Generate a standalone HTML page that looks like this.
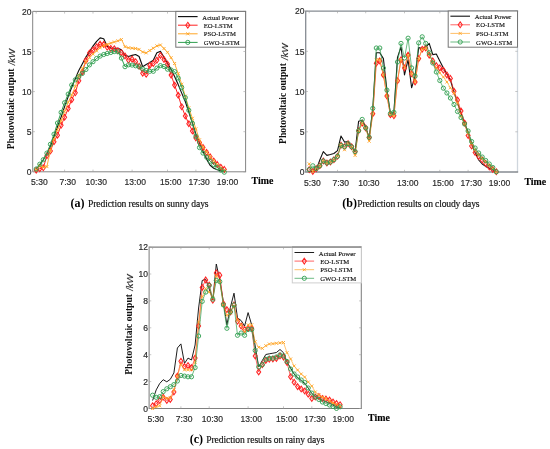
<!DOCTYPE html>
<html><head><meta charset="utf-8"><title>Prediction results</title>
<style>
html,body{margin:0;padding:0;background:#fff;}
svg{display:block}
.tk{font-family:"Liberation Sans",Arial,sans-serif;font-size:9.3px;fill:#2b2b2b;stroke:#2b2b2b;stroke-width:0.2px;}
.lg{font-family:"Liberation Serif","Times New Roman",serif;font-size:6.7px;fill:#111;stroke:#111;stroke-width:0.15px;}
.yl{font-family:"Liberation Serif","Times New Roman",serif;font-size:9.6px;font-weight:bold;fill:#111;}
.kw{font-family:"Liberation Sans",Arial,sans-serif;font-size:9.6px;font-weight:normal;font-style:italic;fill:#2b2b2b;stroke:#2b2b2b;stroke-width:0.15px;}
.tm{font-family:"Liberation Serif","Times New Roman",serif;font-size:9.9px;font-weight:bold;fill:#000;stroke:#000;stroke-width:0.12px;}
.cap{font-family:"Liberation Serif","Times New Roman",serif;font-size:9.6px;fill:#111;stroke:#111;stroke-width:0.15px;}
.cb{font-family:"Liberation Serif","Times New Roman",serif;font-weight:bold;font-size:12px;fill:#000;}
</style></head>
<body>
<svg width="550" height="449" viewBox="0 0 550 449">
<rect x="0" y="0" width="550" height="449" fill="#fff"/>
<path d="M245.6 11.4V171.8" fill="none" stroke="#777" stroke-width="0.9"/>
<path d="M245.6 11.4H32.7V171.8H245.6" fill="none" stroke="#777" stroke-width="0.9" stroke-linecap="square"/>
<path d="M32.7 171.8h2.2M245.6 171.8h-2.2M32.7 131.7h2.2M245.6 131.7h-2.2M32.7 91.6h2.2M245.6 91.6h-2.2M32.7 51.5h2.2M245.6 51.5h-2.2M32.7 11.4h2.2M245.6 11.4h-2.2M36.2 171.8v-2.2M36.2 11.4v2.2M64.6 171.8v-2.2M64.6 11.4v2.2M93.0 171.8v-2.2M93.0 11.4v2.2M132.1 171.8v-2.2M132.1 11.4v2.2M167.5 171.8v-2.2M167.5 11.4v2.2M195.9 171.8v-2.2M195.9 11.4v2.2M224.3 171.8v-2.2M224.3 11.4v2.2" stroke="#a0a0a0" stroke-width="0.6" fill="none"/>
<text transform="translate(31.5 175.1) scale(0.92 1)" text-anchor="end" class="tk">0</text>
<text transform="translate(31.5 135.0) scale(0.92 1)" text-anchor="end" class="tk">5</text>
<text transform="translate(31.5 94.9) scale(0.92 1)" text-anchor="end" class="tk">10</text>
<text transform="translate(31.5 54.8) scale(0.92 1)" text-anchor="end" class="tk">15</text>
<text transform="translate(31.5 14.7) scale(0.92 1)" text-anchor="end" class="tk">20</text>
<text transform="translate(39.4 185.4) scale(0.92 1)" text-anchor="middle" class="tk">5:30</text>
<text transform="translate(67.8 185.4) scale(0.92 1)" text-anchor="middle" class="tk">7:30</text>
<text transform="translate(96.2 185.4) scale(0.92 1)" text-anchor="middle" class="tk">10:30</text>
<text transform="translate(135.3 185.4) scale(0.92 1)" text-anchor="middle" class="tk">13:00</text>
<text transform="translate(170.7 185.4) scale(0.92 1)" text-anchor="middle" class="tk">15:00</text>
<text transform="translate(199.1 185.4) scale(0.92 1)" text-anchor="middle" class="tk">17:30</text>
<text transform="translate(227.5 185.4) scale(0.92 1)" text-anchor="middle" class="tk">19:00</text>
<polyline points="36.2,169.7 39.8,164.9 43.3,159.8 46.9,154.0 50.4,146.5 54.0,136.7 57.5,126.8 61.1,117.1 64.6,106.6 68.2,96.6 71.7,87.2 75.3,78.8 78.8,70.4 82.4,63.7 85.9,57.1 89.5,51.5 93.0,46.1 96.6,41.3 100.1,37.9 103.7,38.8 107.2,46.2 110.8,48.1 114.3,48.2 117.9,48.3 121.4,49.7 125.0,55.0 128.5,56.5 132.1,55.4 135.6,54.5 139.1,56.5 142.7,66.7 146.2,64.4 149.8,62.5 153.3,60.3 156.9,52.7 160.4,51.4 164.0,57.2 167.5,63.2 171.1,69.4 174.6,76.4 178.2,84.6 181.7,93.1 185.3,101.5 188.8,112.0 192.4,123.0 195.9,134.2 199.5,142.8 203.0,151.3 206.6,159.1 210.1,165.3 213.7,168.2 217.2,169.7 220.8,170.8 224.3,171.8" fill="none" stroke="#111" stroke-width="1.15" stroke-linejoin="round"/>
<polyline points="36.2,170.2 39.8,168.7 43.3,167.8 46.9,155.8 50.4,151.0 54.0,141.7 57.5,135.2 61.1,125.3 64.6,117.3 68.2,108.5 71.7,99.7 75.3,92.8 78.8,80.8 82.4,71.9 85.9,60.6 89.5,53.1 93.0,50.0 96.6,46.9 100.1,44.1 103.7,44.4 107.2,47.3 110.8,48.4 114.3,48.7 117.9,50.8 121.4,52.7 125.0,56.0 128.5,60.1 132.1,59.1 135.6,61.7 139.1,66.2 142.7,73.2 146.2,74.3 149.8,65.4 153.3,63.5 156.9,60.1 160.4,55.5 164.0,59.5 167.5,64.1 171.1,75.1 174.6,85.1 178.2,95.3 181.7,106.7 185.3,116.0 188.8,123.7 192.4,131.0 195.9,137.9 199.5,142.6 203.0,147.4 206.6,152.4 210.1,156.8 213.7,161.0 217.2,164.4 220.8,167.3 224.3,169.4" fill="none" stroke="#ff2222" stroke-width="1.0" stroke-linejoin="round"/>
<path d="M36.2 167.3L38.2 170.2L36.2 173.1L34.2 170.2ZM39.8 165.8L41.8 168.7L39.8 171.6L37.8 168.7ZM43.3 164.9L45.3 167.8L43.3 170.7L41.3 167.8ZM46.9 152.9L48.9 155.8L46.9 158.7L44.9 155.8ZM50.4 148.1L52.4 151.0L50.4 153.9L48.4 151.0ZM54.0 138.8L56.0 141.7L54.0 144.6L52.0 141.7ZM57.5 132.3L59.5 135.2L57.5 138.1L55.5 135.2ZM61.1 122.4L63.1 125.3L61.1 128.2L59.1 125.3ZM64.6 114.4L66.6 117.3L64.6 120.2L62.6 117.3ZM68.2 105.6L70.2 108.5L68.2 111.4L66.2 108.5ZM71.7 96.8L73.7 99.7L71.7 102.6L69.7 99.7ZM75.3 89.9L77.3 92.8L75.3 95.7L73.3 92.8ZM78.8 77.9L80.8 80.8L78.8 83.7L76.8 80.8ZM82.4 69.0L84.4 71.9L82.4 74.8L80.4 71.9ZM85.9 57.7L87.9 60.6L85.9 63.5L83.9 60.6ZM89.5 50.2L91.5 53.1L89.5 56.0L87.5 53.1ZM93.0 47.1L95.0 50.0L93.0 52.9L91.0 50.0ZM96.6 44.0L98.6 46.9L96.6 49.8L94.6 46.9ZM100.1 41.2L102.1 44.1L100.1 47.0L98.1 44.1ZM103.7 41.5L105.7 44.4L103.7 47.3L101.7 44.4ZM107.2 44.4L109.2 47.3L107.2 50.2L105.2 47.3ZM110.8 45.5L112.8 48.4L110.8 51.3L108.8 48.4ZM114.3 45.8L116.3 48.7L114.3 51.6L112.3 48.7ZM117.9 47.9L119.9 50.8L117.9 53.7L115.9 50.8ZM121.4 49.8L123.4 52.7L121.4 55.6L119.4 52.7ZM125.0 53.1L127.0 56.0L125.0 58.9L123.0 56.0ZM128.5 57.2L130.5 60.1L128.5 63.0L126.5 60.1ZM132.1 56.2L134.1 59.1L132.1 62.0L130.1 59.1ZM135.6 58.8L137.6 61.7L135.6 64.6L133.6 61.7ZM139.1 63.3L141.1 66.2L139.1 69.1L137.1 66.2ZM142.7 70.3L144.7 73.2L142.7 76.1L140.7 73.2ZM146.2 71.4L148.2 74.3L146.2 77.2L144.2 74.3ZM149.8 62.5L151.8 65.4L149.8 68.3L147.8 65.4ZM153.3 60.6L155.3 63.5L153.3 66.4L151.3 63.5ZM156.9 57.2L158.9 60.1L156.9 63.0L154.9 60.1ZM160.4 52.6L162.4 55.5L160.4 58.4L158.4 55.5ZM164.0 56.6L166.0 59.5L164.0 62.4L162.0 59.5ZM167.5 61.2L169.5 64.1L167.5 67.0L165.5 64.1ZM171.1 72.2L173.1 75.1L171.1 78.0L169.1 75.1ZM174.6 82.2L176.6 85.1L174.6 88.0L172.6 85.1ZM178.2 92.4L180.2 95.3L178.2 98.2L176.2 95.3ZM181.7 103.8L183.7 106.7L181.7 109.6L179.7 106.7ZM185.3 113.1L187.3 116.0L185.3 118.9L183.3 116.0ZM188.8 120.8L190.8 123.7L188.8 126.6L186.8 123.7ZM192.4 128.1L194.4 131.0L192.4 133.9L190.4 131.0ZM195.9 135.0L197.9 137.9L195.9 140.8L193.9 137.9ZM199.5 139.7L201.5 142.6L199.5 145.5L197.5 142.6ZM203.0 144.5L205.0 147.4L203.0 150.3L201.0 147.4ZM206.6 149.5L208.6 152.4L206.6 155.3L204.6 152.4ZM210.1 153.9L212.1 156.8L210.1 159.7L208.1 156.8ZM213.7 158.1L215.7 161.0L213.7 163.9L211.7 161.0ZM217.2 161.5L219.2 164.4L217.2 167.3L215.2 164.4ZM220.8 164.4L222.8 167.3L220.8 170.2L218.8 167.3ZM224.3 166.5L226.3 169.4L224.3 172.3L222.3 169.4Z" fill="none" stroke="#ff2222" stroke-width="1.05"/>
<polyline points="36.2,169.7 39.8,165.8 43.3,167.2 46.9,166.6 50.4,150.4 54.0,139.2 57.5,129.7 61.1,120.6 64.6,111.4 68.2,102.4 71.7,94.9 75.3,86.6 78.8,75.4 82.4,68.5 85.9,61.8 89.5,57.7 93.0,54.1 96.6,50.9 100.1,47.8 103.7,45.7 107.2,44.4 110.8,43.1 114.3,42.0 117.9,40.8 121.4,39.5 125.0,46.7 128.5,47.8 132.1,48.2 135.6,48.5 139.1,49.4 142.7,52.0 146.2,52.9 149.8,50.5 153.3,48.2 156.9,45.9 160.4,45.0 164.0,48.5 167.5,52.3 171.1,57.7 174.6,63.5 178.2,73.5 181.7,84.2 185.3,96.1 188.8,107.8 192.4,118.3 195.9,128.8 199.5,139.8 203.0,147.3 206.6,152.1 210.1,156.6 213.7,160.7 217.2,164.6 220.8,168.0 224.3,170.4" fill="none" stroke="#ffa526" stroke-width="0.90" stroke-linejoin="round"/>
<path d="M34.7 168.2L37.7 171.2M34.7 171.2L37.7 168.2M38.3 164.3L41.3 167.3M38.3 167.3L41.3 164.3M41.8 165.7L44.8 168.7M41.8 168.7L44.8 165.7M45.4 165.1L48.4 168.1M45.4 168.1L48.4 165.1M48.9 148.9L51.9 151.9M48.9 151.9L51.9 148.9M52.5 137.7L55.5 140.7M52.5 140.7L55.5 137.7M56.0 128.2L59.0 131.2M56.0 131.2L59.0 128.2M59.6 119.1L62.6 122.1M59.6 122.1L62.6 119.1M63.1 109.9L66.1 112.9M63.1 112.9L66.1 109.9M66.7 100.9L69.7 103.9M66.7 103.9L69.7 100.9M70.2 93.4L73.2 96.4M70.2 96.4L73.2 93.4M73.8 85.1L76.8 88.1M73.8 88.1L76.8 85.1M77.3 73.9L80.3 76.9M77.3 76.9L80.3 73.9M80.9 67.0L83.9 70.0M80.9 70.0L83.9 67.0M84.4 60.3L87.4 63.3M84.4 63.3L87.4 60.3M88.0 56.2L91.0 59.2M88.0 59.2L91.0 56.2M91.5 52.6L94.5 55.6M91.5 55.6L94.5 52.6M95.1 49.4L98.1 52.4M95.1 52.4L98.1 49.4M98.6 46.3L101.6 49.3M98.6 49.3L101.6 46.3M102.2 44.2L105.2 47.2M102.2 47.2L105.2 44.2M105.7 42.9L108.7 45.9M105.7 45.9L108.7 42.9M109.3 41.6L112.3 44.6M109.3 44.6L112.3 41.6M112.8 40.5L115.8 43.5M112.8 43.5L115.8 40.5M116.4 39.3L119.4 42.3M116.4 42.3L119.4 39.3M119.9 38.0L122.9 41.0M119.9 41.0L122.9 38.0M123.5 45.2L126.5 48.2M123.5 48.2L126.5 45.2M127.0 46.3L130.0 49.3M127.0 49.3L130.0 46.3M130.6 46.7L133.6 49.7M130.6 49.7L133.6 46.7M134.1 47.0L137.1 50.0M134.1 50.0L137.1 47.0M137.6 47.9L140.6 50.9M137.6 50.9L140.6 47.9M141.2 50.5L144.2 53.5M141.2 53.5L144.2 50.5M144.7 51.4L147.7 54.4M144.7 54.4L147.7 51.4M148.3 49.0L151.3 52.0M148.3 52.0L151.3 49.0M151.8 46.7L154.8 49.7M151.8 49.7L154.8 46.7M155.4 44.4L158.4 47.4M155.4 47.4L158.4 44.4M158.9 43.5L161.9 46.5M158.9 46.5L161.9 43.5M162.5 47.0L165.5 50.0M162.5 50.0L165.5 47.0M166.0 50.8L169.0 53.8M166.0 53.8L169.0 50.8M169.6 56.2L172.6 59.2M169.6 59.2L172.6 56.2M173.1 62.0L176.1 65.0M173.1 65.0L176.1 62.0M176.7 72.0L179.7 75.0M176.7 75.0L179.7 72.0M180.2 82.7L183.2 85.7M180.2 85.7L183.2 82.7M183.8 94.6L186.8 97.6M183.8 97.6L186.8 94.6M187.3 106.3L190.3 109.3M187.3 109.3L190.3 106.3M190.9 116.8L193.9 119.8M190.9 119.8L193.9 116.8M194.4 127.3L197.4 130.3M194.4 130.3L197.4 127.3M198.0 138.3L201.0 141.3M198.0 141.3L201.0 138.3M201.5 145.8L204.5 148.8M201.5 148.8L204.5 145.8M205.1 150.6L208.1 153.6M205.1 153.6L208.1 150.6M208.6 155.1L211.6 158.1M208.6 158.1L211.6 155.1M212.2 159.2L215.2 162.2M212.2 162.2L215.2 159.2M215.7 163.1L218.7 166.1M215.7 166.1L218.7 163.1M219.3 166.5L222.3 169.5M219.3 169.5L222.3 166.5M222.8 168.9L225.8 171.9M222.8 171.9L225.8 168.9" fill="none" stroke="#ffa526" stroke-width="0.9"/>
<polyline points="36.2,169.0 39.8,164.2 43.3,159.7 46.9,153.1 50.4,144.3 54.0,134.2 57.5,123.0 61.1,112.4 64.6,102.7 68.2,94.1 71.7,85.0 75.3,79.8 78.8,76.7 82.4,73.4 85.9,69.5 89.5,64.9 93.0,61.7 96.6,58.5 100.1,56.1 103.7,54.5 107.2,53.5 110.8,52.5 114.3,51.6 117.9,51.7 121.4,58.1 125.0,66.7 128.5,64.8 132.1,65.1 135.6,65.8 139.1,66.8 142.7,68.9 146.2,70.5 149.8,71.3 153.3,71.3 156.9,68.1 160.4,65.6 164.0,66.5 167.5,69.2 171.1,70.0 174.6,71.6 178.2,78.0 181.7,87.4 185.3,97.6 188.8,110.3 192.4,123.3 195.9,136.4 199.5,147.6 203.0,153.1 206.6,157.2 210.1,161.2 213.7,164.6 217.2,167.5 220.8,170.1 224.3,172.2" fill="none" stroke="#2f9e4f" stroke-width="1.0" stroke-linejoin="round"/>
<circle cx="36.2" cy="169.0" r="2.1" fill="none" stroke="#2f9e4f" stroke-width="0.9"/>
<circle cx="39.8" cy="164.2" r="2.1" fill="none" stroke="#2f9e4f" stroke-width="0.9"/>
<circle cx="43.3" cy="159.7" r="2.1" fill="none" stroke="#2f9e4f" stroke-width="0.9"/>
<circle cx="46.9" cy="153.1" r="2.1" fill="none" stroke="#2f9e4f" stroke-width="0.9"/>
<circle cx="50.4" cy="144.3" r="2.1" fill="none" stroke="#2f9e4f" stroke-width="0.9"/>
<circle cx="54.0" cy="134.2" r="2.1" fill="none" stroke="#2f9e4f" stroke-width="0.9"/>
<circle cx="57.5" cy="123.0" r="2.1" fill="none" stroke="#2f9e4f" stroke-width="0.9"/>
<circle cx="61.1" cy="112.4" r="2.1" fill="none" stroke="#2f9e4f" stroke-width="0.9"/>
<circle cx="64.6" cy="102.7" r="2.1" fill="none" stroke="#2f9e4f" stroke-width="0.9"/>
<circle cx="68.2" cy="94.1" r="2.1" fill="none" stroke="#2f9e4f" stroke-width="0.9"/>
<circle cx="71.7" cy="85.0" r="2.1" fill="none" stroke="#2f9e4f" stroke-width="0.9"/>
<circle cx="75.3" cy="79.8" r="2.1" fill="none" stroke="#2f9e4f" stroke-width="0.9"/>
<circle cx="78.8" cy="76.7" r="2.1" fill="none" stroke="#2f9e4f" stroke-width="0.9"/>
<circle cx="82.4" cy="73.4" r="2.1" fill="none" stroke="#2f9e4f" stroke-width="0.9"/>
<circle cx="85.9" cy="69.5" r="2.1" fill="none" stroke="#2f9e4f" stroke-width="0.9"/>
<circle cx="89.5" cy="64.9" r="2.1" fill="none" stroke="#2f9e4f" stroke-width="0.9"/>
<circle cx="93.0" cy="61.7" r="2.1" fill="none" stroke="#2f9e4f" stroke-width="0.9"/>
<circle cx="96.6" cy="58.5" r="2.1" fill="none" stroke="#2f9e4f" stroke-width="0.9"/>
<circle cx="100.1" cy="56.1" r="2.1" fill="none" stroke="#2f9e4f" stroke-width="0.9"/>
<circle cx="103.7" cy="54.5" r="2.1" fill="none" stroke="#2f9e4f" stroke-width="0.9"/>
<circle cx="107.2" cy="53.5" r="2.1" fill="none" stroke="#2f9e4f" stroke-width="0.9"/>
<circle cx="110.8" cy="52.5" r="2.1" fill="none" stroke="#2f9e4f" stroke-width="0.9"/>
<circle cx="114.3" cy="51.6" r="2.1" fill="none" stroke="#2f9e4f" stroke-width="0.9"/>
<circle cx="117.9" cy="51.7" r="2.1" fill="none" stroke="#2f9e4f" stroke-width="0.9"/>
<circle cx="121.4" cy="58.1" r="2.1" fill="none" stroke="#2f9e4f" stroke-width="0.9"/>
<circle cx="125.0" cy="66.7" r="2.1" fill="none" stroke="#2f9e4f" stroke-width="0.9"/>
<circle cx="128.5" cy="64.8" r="2.1" fill="none" stroke="#2f9e4f" stroke-width="0.9"/>
<circle cx="132.1" cy="65.1" r="2.1" fill="none" stroke="#2f9e4f" stroke-width="0.9"/>
<circle cx="135.6" cy="65.8" r="2.1" fill="none" stroke="#2f9e4f" stroke-width="0.9"/>
<circle cx="139.1" cy="66.8" r="2.1" fill="none" stroke="#2f9e4f" stroke-width="0.9"/>
<circle cx="142.7" cy="68.9" r="2.1" fill="none" stroke="#2f9e4f" stroke-width="0.9"/>
<circle cx="146.2" cy="70.5" r="2.1" fill="none" stroke="#2f9e4f" stroke-width="0.9"/>
<circle cx="149.8" cy="71.3" r="2.1" fill="none" stroke="#2f9e4f" stroke-width="0.9"/>
<circle cx="153.3" cy="71.3" r="2.1" fill="none" stroke="#2f9e4f" stroke-width="0.9"/>
<circle cx="156.9" cy="68.1" r="2.1" fill="none" stroke="#2f9e4f" stroke-width="0.9"/>
<circle cx="160.4" cy="65.6" r="2.1" fill="none" stroke="#2f9e4f" stroke-width="0.9"/>
<circle cx="164.0" cy="66.5" r="2.1" fill="none" stroke="#2f9e4f" stroke-width="0.9"/>
<circle cx="167.5" cy="69.2" r="2.1" fill="none" stroke="#2f9e4f" stroke-width="0.9"/>
<circle cx="171.1" cy="70.0" r="2.1" fill="none" stroke="#2f9e4f" stroke-width="0.9"/>
<circle cx="174.6" cy="71.6" r="2.1" fill="none" stroke="#2f9e4f" stroke-width="0.9"/>
<circle cx="178.2" cy="78.0" r="2.1" fill="none" stroke="#2f9e4f" stroke-width="0.9"/>
<circle cx="181.7" cy="87.4" r="2.1" fill="none" stroke="#2f9e4f" stroke-width="0.9"/>
<circle cx="185.3" cy="97.6" r="2.1" fill="none" stroke="#2f9e4f" stroke-width="0.9"/>
<circle cx="188.8" cy="110.3" r="2.1" fill="none" stroke="#2f9e4f" stroke-width="0.9"/>
<circle cx="192.4" cy="123.3" r="2.1" fill="none" stroke="#2f9e4f" stroke-width="0.9"/>
<circle cx="195.9" cy="136.4" r="2.1" fill="none" stroke="#2f9e4f" stroke-width="0.9"/>
<circle cx="199.5" cy="147.6" r="2.1" fill="none" stroke="#2f9e4f" stroke-width="0.9"/>
<circle cx="203.0" cy="153.1" r="2.1" fill="none" stroke="#2f9e4f" stroke-width="0.9"/>
<circle cx="206.6" cy="157.2" r="2.1" fill="none" stroke="#2f9e4f" stroke-width="0.9"/>
<circle cx="210.1" cy="161.2" r="2.1" fill="none" stroke="#2f9e4f" stroke-width="0.9"/>
<circle cx="213.7" cy="164.6" r="2.1" fill="none" stroke="#2f9e4f" stroke-width="0.9"/>
<circle cx="217.2" cy="167.5" r="2.1" fill="none" stroke="#2f9e4f" stroke-width="0.9"/>
<circle cx="220.8" cy="170.1" r="2.1" fill="none" stroke="#2f9e4f" stroke-width="0.9"/>
<circle cx="224.3" cy="172.2" r="2.1" fill="none" stroke="#2f9e4f" stroke-width="0.9"/>
<rect x="175.8" y="11.4" width="69.8" height="35.8" fill="#fff" stroke="#757575" stroke-width="1"/>
<path d="M178.0 16.6H197.6" stroke="#111" stroke-width="1.15" fill="none"/>
<text x="202.3" y="19.7" class="lg">Actual Power</text>
<path d="M178.0 25.2H197.6" stroke="#ff2222" stroke-width="1.0" fill="none"/>
<path d="M187.8 22.3L189.8 25.2L187.8 28.1L185.8 25.2Z" fill="none" stroke="#ff2222" stroke-width="1.05"/>
<text x="203.7" y="27.8" class="lg">EO-LSTM</text>
<path d="M178.0 33.8H197.6" stroke="#ffa526" stroke-width="1.0" fill="none"/>
<path d="M186.3 32.3L189.3 35.3M186.3 35.3L189.3 32.3" fill="none" stroke="#ffa526" stroke-width="0.9"/>
<text x="203.7" y="36.4" class="lg">PSO-LSTM</text>
<path d="M178.0 42.4H197.6" stroke="#2f9e4f" stroke-width="1.0" fill="none"/>
<circle cx="187.8" cy="42.4" r="2.1" fill="none" stroke="#2f9e4f" stroke-width="0.9"/>
<text x="203.7" y="45.0" class="lg">GWO-LSTM</text>
<path d="M517.5 11.1V172.0" fill="none" stroke="#cfd6dd" stroke-width="1.3"/>
<path d="M517.5 11.1H305.7V172.0H517.5" fill="none" stroke="#868c93" stroke-width="1.3" stroke-linecap="square"/>
<path d="M305.7 172.0h2.2M517.5 172.0h-2.2M305.7 131.8h2.2M517.5 131.8h-2.2M305.7 91.5h2.2M517.5 91.5h-2.2M305.7 51.3h2.2M517.5 51.3h-2.2M305.7 11.1h2.2M517.5 11.1h-2.2M309.2 172.0v-2.2M309.2 11.1v2.2M337.5 172.0v-2.2M337.5 11.1v2.2M365.7 172.0v-2.2M365.7 11.1v2.2M404.5 172.0v-2.2M404.5 11.1v2.2M439.8 172.0v-2.2M439.8 11.1v2.2M468.1 172.0v-2.2M468.1 11.1v2.2M496.3 172.0v-2.2M496.3 11.1v2.2" stroke="#a0a0a0" stroke-width="0.6" fill="none"/>
<text transform="translate(304.5 175.3) scale(0.92 1)" text-anchor="end" class="tk">0</text>
<text transform="translate(304.5 135.1) scale(0.92 1)" text-anchor="end" class="tk">5</text>
<text transform="translate(304.5 94.8) scale(0.92 1)" text-anchor="end" class="tk">10</text>
<text transform="translate(304.5 54.6) scale(0.92 1)" text-anchor="end" class="tk">15</text>
<text transform="translate(304.5 14.4) scale(0.92 1)" text-anchor="end" class="tk">20</text>
<text transform="translate(312.4 185.6) scale(0.92 1)" text-anchor="middle" class="tk">5:30</text>
<text transform="translate(340.7 185.6) scale(0.92 1)" text-anchor="middle" class="tk">7:30</text>
<text transform="translate(368.9 185.6) scale(0.92 1)" text-anchor="middle" class="tk">10:30</text>
<text transform="translate(407.7 185.6) scale(0.92 1)" text-anchor="middle" class="tk">13:00</text>
<text transform="translate(443.0 185.6) scale(0.92 1)" text-anchor="middle" class="tk">15:00</text>
<text transform="translate(471.3 185.6) scale(0.92 1)" text-anchor="middle" class="tk">17:30</text>
<text transform="translate(499.5 185.6) scale(0.92 1)" text-anchor="middle" class="tk">19:00</text>
<polyline points="309.2,171.5 312.8,171.5 316.3,169.6 319.8,160.0 323.3,151.6 326.9,155.4 330.4,154.5 333.9,153.5 337.5,150.6 341.0,136.0 344.5,142.1 348.1,141.5 351.6,146.8 355.1,151.6 358.6,121.3 362.2,120.3 365.7,126.9 369.2,138.3 372.8,108.9 376.3,52.7 379.8,52.7 383.4,58.6 386.9,90.0 390.4,113.5 393.9,112.5 397.5,57.4 401.0,46.9 404.5,74.9 408.1,59.7 411.6,87.8 415.1,76.1 418.7,47.6 422.2,48.5 425.7,47.0 429.2,43.4 432.8,54.6 436.3,54.0 439.8,61.0 443.4,68.0 446.9,74.0 450.4,80.0 454.0,92.0 457.5,103.0 461.0,113.5 464.6,123.0 468.1,132.5 471.6,143.5 475.1,152.5 478.7,160.0 482.2,164.0 485.7,166.4 489.3,168.2 492.8,170.0 496.3,171.8" fill="none" stroke="#111" stroke-width="1.1" stroke-linejoin="round"/>
<polyline points="309.2,169.6 312.8,171.5 316.3,168.6 319.8,165.8 323.3,161.0 326.9,163.0 330.4,162.0 333.9,159.7 337.5,156.3 341.0,145.3 344.5,146.8 348.1,143.6 351.6,146.8 355.1,151.6 358.6,130.7 362.2,123.2 365.7,127.9 369.2,137.4 372.8,113.7 376.3,63.2 379.8,60.9 383.4,74.9 386.9,96.0 390.4,114.7 393.9,115.8 397.5,80.8 401.0,59.7 404.5,67.9 408.1,55.1 411.6,73.8 415.1,81.9 418.7,58.6 422.2,49.2 425.7,48.0 429.2,55.1 432.8,60.9 436.3,65.6 439.8,67.9 443.4,70.3 446.9,74.9 450.4,78.4 454.0,91.2 457.5,100.0 461.0,111.0 464.6,123.0 468.1,135.5 471.6,146.0 475.1,152.5 478.7,156.5 482.2,160.0 485.7,163.5 489.3,167.0 492.8,169.5 496.3,171.8" fill="none" stroke="#ff2222" stroke-width="0.7" stroke-linejoin="round"/>
<path d="M309.2 166.7L311.2 169.6L309.2 172.5L307.2 169.6ZM312.8 168.6L314.8 171.5L312.8 174.4L310.8 171.5ZM316.3 165.7L318.3 168.6L316.3 171.5L314.3 168.6ZM319.8 162.9L321.8 165.8L319.8 168.7L317.8 165.8ZM323.3 158.1L325.3 161.0L323.3 163.9L321.3 161.0ZM326.9 160.1L328.9 163.0L326.9 165.9L324.9 163.0ZM330.4 159.1L332.4 162.0L330.4 164.9L328.4 162.0ZM333.9 156.8L335.9 159.7L333.9 162.6L331.9 159.7ZM337.5 153.4L339.5 156.3L337.5 159.2L335.5 156.3ZM341.0 142.4L343.0 145.3L341.0 148.2L339.0 145.3ZM344.5 143.9L346.5 146.8L344.5 149.7L342.5 146.8ZM348.1 140.7L350.1 143.6L348.1 146.5L346.1 143.6ZM351.6 143.9L353.6 146.8L351.6 149.7L349.6 146.8ZM355.1 148.7L357.1 151.6L355.1 154.5L353.1 151.6ZM358.6 127.8L360.6 130.7L358.6 133.6L356.6 130.7ZM362.2 120.3L364.2 123.2L362.2 126.1L360.2 123.2ZM365.7 125.0L367.7 127.9L365.7 130.8L363.7 127.9ZM369.2 134.5L371.2 137.4L369.2 140.3L367.2 137.4ZM372.8 110.8L374.8 113.7L372.8 116.6L370.8 113.7ZM376.3 60.3L378.3 63.2L376.3 66.1L374.3 63.2ZM379.8 58.0L381.8 60.9L379.8 63.8L377.8 60.9ZM383.4 72.0L385.4 74.9L383.4 77.8L381.4 74.9ZM386.9 93.1L388.9 96.0L386.9 98.9L384.9 96.0ZM390.4 111.8L392.4 114.7L390.4 117.6L388.4 114.7ZM393.9 112.9L395.9 115.8L393.9 118.7L391.9 115.8ZM397.5 77.9L399.5 80.8L397.5 83.7L395.5 80.8ZM401.0 56.8L403.0 59.7L401.0 62.6L399.0 59.7ZM404.5 65.0L406.5 67.9L404.5 70.8L402.5 67.9ZM408.1 52.2L410.1 55.1L408.1 58.0L406.1 55.1ZM411.6 70.9L413.6 73.8L411.6 76.7L409.6 73.8ZM415.1 79.0L417.1 81.9L415.1 84.8L413.1 81.9ZM418.7 55.7L420.7 58.6L418.7 61.5L416.7 58.6ZM422.2 46.3L424.2 49.2L422.2 52.1L420.2 49.2ZM425.7 45.1L427.7 48.0L425.7 50.9L423.7 48.0ZM429.2 52.2L431.2 55.1L429.2 58.0L427.2 55.1ZM432.8 58.0L434.8 60.9L432.8 63.8L430.8 60.9ZM436.3 62.7L438.3 65.6L436.3 68.5L434.3 65.6ZM439.8 65.0L441.8 67.9L439.8 70.8L437.8 67.9ZM443.4 67.4L445.4 70.3L443.4 73.2L441.4 70.3ZM446.9 72.0L448.9 74.9L446.9 77.8L444.9 74.9ZM450.4 75.5L452.4 78.4L450.4 81.3L448.4 78.4ZM454.0 88.3L456.0 91.2L454.0 94.1L452.0 91.2ZM457.5 97.1L459.5 100.0L457.5 102.9L455.5 100.0ZM461.0 108.1L463.0 111.0L461.0 113.9L459.0 111.0ZM464.6 120.1L466.6 123.0L464.6 125.9L462.6 123.0ZM468.1 132.6L470.1 135.5L468.1 138.4L466.1 135.5ZM471.6 143.1L473.6 146.0L471.6 148.9L469.6 146.0ZM475.1 149.6L477.1 152.5L475.1 155.4L473.1 152.5ZM478.7 153.6L480.7 156.5L478.7 159.4L476.7 156.5ZM482.2 157.1L484.2 160.0L482.2 162.9L480.2 160.0ZM485.7 160.6L487.7 163.5L485.7 166.4L483.7 163.5ZM489.3 164.1L491.3 167.0L489.3 169.9L487.3 167.0ZM492.8 166.6L494.8 169.5L492.8 172.4L490.8 169.5ZM496.3 168.9L498.3 171.8L496.3 174.7L494.3 171.8Z" fill="none" stroke="#ff2222" stroke-width="1.05"/>
<polyline points="309.2,163.9 312.8,171.5 316.3,168.6 319.8,165.8 323.3,161.0 326.9,163.0 330.4,162.0 333.9,159.7 337.5,156.3 341.0,145.3 344.5,149.7 348.1,143.6 351.6,146.8 355.1,155.4 358.6,130.7 362.2,123.2 365.7,127.9 369.2,141.2 372.8,113.7 376.3,59.7 379.8,59.7 383.4,74.9 386.9,96.0 390.4,114.7 393.9,115.8 397.5,80.8 401.0,59.7 404.5,67.9 408.1,55.1 411.6,73.8 415.1,81.9 418.7,58.6 422.2,49.2 425.7,48.0 429.2,55.1 432.8,62.0 436.3,68.0 439.8,73.0 443.4,77.0 446.9,82.0 450.4,87.8 454.0,93.0 457.5,103.0 461.0,116.0 464.6,124.0 468.1,133.0 471.6,143.5 475.1,150.0 478.7,155.0 482.2,158.5 485.7,162.0 489.3,165.5 492.8,168.5 496.3,171.8" fill="none" stroke="#ffa526" stroke-width="0.63" stroke-linejoin="round"/>
<path d="M307.7 162.4L310.7 165.4M307.7 165.4L310.7 162.4M311.3 170.0L314.3 173.0M311.3 173.0L314.3 170.0M314.8 167.1L317.8 170.1M314.8 170.1L317.8 167.1M318.3 164.3L321.3 167.3M318.3 167.3L321.3 164.3M321.8 159.5L324.8 162.5M321.8 162.5L324.8 159.5M325.4 161.5L328.4 164.5M325.4 164.5L328.4 161.5M328.9 160.5L331.9 163.5M328.9 163.5L331.9 160.5M332.4 158.2L335.4 161.2M332.4 161.2L335.4 158.2M336.0 154.8L339.0 157.8M336.0 157.8L339.0 154.8M339.5 143.8L342.5 146.8M339.5 146.8L342.5 143.8M343.0 148.2L346.0 151.2M343.0 151.2L346.0 148.2M346.6 142.1L349.6 145.1M346.6 145.1L349.6 142.1M350.1 145.3L353.1 148.3M350.1 148.3L353.1 145.3M353.6 153.9L356.6 156.9M353.6 156.9L356.6 153.9M357.1 129.2L360.1 132.2M357.1 132.2L360.1 129.2M360.7 121.7L363.7 124.7M360.7 124.7L363.7 121.7M364.2 126.4L367.2 129.4M364.2 129.4L367.2 126.4M367.7 139.7L370.7 142.7M367.7 142.7L370.7 139.7M371.3 112.2L374.3 115.2M371.3 115.2L374.3 112.2M374.8 58.2L377.8 61.2M374.8 61.2L377.8 58.2M378.3 58.2L381.3 61.2M378.3 61.2L381.3 58.2M381.9 73.4L384.9 76.4M381.9 76.4L384.9 73.4M385.4 94.5L388.4 97.5M385.4 97.5L388.4 94.5M388.9 113.2L391.9 116.2M388.9 116.2L391.9 113.2M392.4 114.3L395.4 117.3M392.4 117.3L395.4 114.3M396.0 79.3L399.0 82.3M396.0 82.3L399.0 79.3M399.5 58.2L402.5 61.2M399.5 61.2L402.5 58.2M403.0 66.4L406.0 69.4M403.0 69.4L406.0 66.4M406.6 53.6L409.6 56.6M406.6 56.6L409.6 53.6M410.1 72.3L413.1 75.3M410.1 75.3L413.1 72.3M413.6 80.4L416.6 83.4M413.6 83.4L416.6 80.4M417.2 57.1L420.2 60.1M417.2 60.1L420.2 57.1M420.7 47.7L423.7 50.7M420.7 50.7L423.7 47.7M424.2 46.5L427.2 49.5M424.2 49.5L427.2 46.5M427.8 53.6L430.8 56.6M427.8 56.6L430.8 53.6M431.3 60.5L434.3 63.5M431.3 63.5L434.3 60.5M434.8 66.5L437.8 69.5M434.8 69.5L437.8 66.5M438.3 71.5L441.3 74.5M438.3 74.5L441.3 71.5M441.9 75.5L444.9 78.5M441.9 78.5L444.9 75.5M445.4 80.5L448.4 83.5M445.4 83.5L448.4 80.5M448.9 86.3L451.9 89.3M448.9 89.3L451.9 86.3M452.5 91.5L455.5 94.5M452.5 94.5L455.5 91.5M456.0 101.5L459.0 104.5M456.0 104.5L459.0 101.5M459.5 114.5L462.5 117.5M459.5 117.5L462.5 114.5M463.1 122.5L466.1 125.5M463.1 125.5L466.1 122.5M466.6 131.5L469.6 134.5M466.6 134.5L469.6 131.5M470.1 142.0L473.1 145.0M470.1 145.0L473.1 142.0M473.6 148.5L476.6 151.5M473.6 151.5L476.6 148.5M477.2 153.5L480.2 156.5M477.2 156.5L480.2 153.5M480.7 157.0L483.7 160.0M480.7 160.0L483.7 157.0M484.2 160.5L487.2 163.5M484.2 163.5L487.2 160.5M487.8 164.0L490.8 167.0M487.8 167.0L490.8 164.0M491.3 167.0L494.3 170.0M491.3 170.0L494.3 167.0M494.8 170.3L497.8 173.3M494.8 173.3L497.8 170.3" fill="none" stroke="#ffa526" stroke-width="0.9"/>
<polyline points="309.2,169.6 312.8,165.8 316.3,168.6 319.8,165.8 323.3,161.0 326.9,163.0 330.4,162.0 333.9,159.7 337.5,156.3 341.0,145.3 344.5,146.8 348.1,143.6 351.6,146.8 355.1,151.6 358.6,130.7 362.2,119.4 365.7,127.9 369.2,137.4 372.8,108.4 376.3,48.0 379.8,48.0 383.4,68.0 386.9,90.1 390.4,113.5 393.9,112.3 397.5,62.0 401.0,43.4 404.5,58.0 408.1,38.2 411.6,67.9 415.1,76.1 418.7,42.9 422.2,36.8 425.7,43.4 429.2,52.7 432.8,63.0 436.3,72.0 439.8,80.5 443.4,88.2 446.9,93.0 450.4,98.0 454.0,104.5 457.5,111.5 461.0,117.5 464.6,124.0 468.1,131.0 471.6,141.5 475.1,148.0 478.7,153.0 482.2,157.0 485.7,160.5 489.3,164.0 492.8,167.5 496.3,171.8" fill="none" stroke="#2f9e4f" stroke-width="0.7" stroke-linejoin="round"/>
<circle cx="309.2" cy="169.6" r="2.1" fill="none" stroke="#2f9e4f" stroke-width="0.9"/>
<circle cx="312.8" cy="165.8" r="2.1" fill="none" stroke="#2f9e4f" stroke-width="0.9"/>
<circle cx="316.3" cy="168.6" r="2.1" fill="none" stroke="#2f9e4f" stroke-width="0.9"/>
<circle cx="319.8" cy="165.8" r="2.1" fill="none" stroke="#2f9e4f" stroke-width="0.9"/>
<circle cx="323.3" cy="161.0" r="2.1" fill="none" stroke="#2f9e4f" stroke-width="0.9"/>
<circle cx="326.9" cy="163.0" r="2.1" fill="none" stroke="#2f9e4f" stroke-width="0.9"/>
<circle cx="330.4" cy="162.0" r="2.1" fill="none" stroke="#2f9e4f" stroke-width="0.9"/>
<circle cx="333.9" cy="159.7" r="2.1" fill="none" stroke="#2f9e4f" stroke-width="0.9"/>
<circle cx="337.5" cy="156.3" r="2.1" fill="none" stroke="#2f9e4f" stroke-width="0.9"/>
<circle cx="341.0" cy="145.3" r="2.1" fill="none" stroke="#2f9e4f" stroke-width="0.9"/>
<circle cx="344.5" cy="146.8" r="2.1" fill="none" stroke="#2f9e4f" stroke-width="0.9"/>
<circle cx="348.1" cy="143.6" r="2.1" fill="none" stroke="#2f9e4f" stroke-width="0.9"/>
<circle cx="351.6" cy="146.8" r="2.1" fill="none" stroke="#2f9e4f" stroke-width="0.9"/>
<circle cx="355.1" cy="151.6" r="2.1" fill="none" stroke="#2f9e4f" stroke-width="0.9"/>
<circle cx="358.6" cy="130.7" r="2.1" fill="none" stroke="#2f9e4f" stroke-width="0.9"/>
<circle cx="362.2" cy="119.4" r="2.1" fill="none" stroke="#2f9e4f" stroke-width="0.9"/>
<circle cx="365.7" cy="127.9" r="2.1" fill="none" stroke="#2f9e4f" stroke-width="0.9"/>
<circle cx="369.2" cy="137.4" r="2.1" fill="none" stroke="#2f9e4f" stroke-width="0.9"/>
<circle cx="372.8" cy="108.4" r="2.1" fill="none" stroke="#2f9e4f" stroke-width="0.9"/>
<circle cx="376.3" cy="48.0" r="2.1" fill="none" stroke="#2f9e4f" stroke-width="0.9"/>
<circle cx="379.8" cy="48.0" r="2.1" fill="none" stroke="#2f9e4f" stroke-width="0.9"/>
<circle cx="383.4" cy="68.0" r="2.1" fill="none" stroke="#2f9e4f" stroke-width="0.9"/>
<circle cx="386.9" cy="90.1" r="2.1" fill="none" stroke="#2f9e4f" stroke-width="0.9"/>
<circle cx="390.4" cy="113.5" r="2.1" fill="none" stroke="#2f9e4f" stroke-width="0.9"/>
<circle cx="393.9" cy="112.3" r="2.1" fill="none" stroke="#2f9e4f" stroke-width="0.9"/>
<circle cx="397.5" cy="62.0" r="2.1" fill="none" stroke="#2f9e4f" stroke-width="0.9"/>
<circle cx="401.0" cy="43.4" r="2.1" fill="none" stroke="#2f9e4f" stroke-width="0.9"/>
<circle cx="404.5" cy="58.0" r="2.1" fill="none" stroke="#2f9e4f" stroke-width="0.9"/>
<circle cx="408.1" cy="38.2" r="2.1" fill="none" stroke="#2f9e4f" stroke-width="0.9"/>
<circle cx="411.6" cy="67.9" r="2.1" fill="none" stroke="#2f9e4f" stroke-width="0.9"/>
<circle cx="415.1" cy="76.1" r="2.1" fill="none" stroke="#2f9e4f" stroke-width="0.9"/>
<circle cx="418.7" cy="42.9" r="2.1" fill="none" stroke="#2f9e4f" stroke-width="0.9"/>
<circle cx="422.2" cy="36.8" r="2.1" fill="none" stroke="#2f9e4f" stroke-width="0.9"/>
<circle cx="425.7" cy="43.4" r="2.1" fill="none" stroke="#2f9e4f" stroke-width="0.9"/>
<circle cx="429.2" cy="52.7" r="2.1" fill="none" stroke="#2f9e4f" stroke-width="0.9"/>
<circle cx="432.8" cy="63.0" r="2.1" fill="none" stroke="#2f9e4f" stroke-width="0.9"/>
<circle cx="436.3" cy="72.0" r="2.1" fill="none" stroke="#2f9e4f" stroke-width="0.9"/>
<circle cx="439.8" cy="80.5" r="2.1" fill="none" stroke="#2f9e4f" stroke-width="0.9"/>
<circle cx="443.4" cy="88.2" r="2.1" fill="none" stroke="#2f9e4f" stroke-width="0.9"/>
<circle cx="446.9" cy="93.0" r="2.1" fill="none" stroke="#2f9e4f" stroke-width="0.9"/>
<circle cx="450.4" cy="98.0" r="2.1" fill="none" stroke="#2f9e4f" stroke-width="0.9"/>
<circle cx="454.0" cy="104.5" r="2.1" fill="none" stroke="#2f9e4f" stroke-width="0.9"/>
<circle cx="457.5" cy="111.5" r="2.1" fill="none" stroke="#2f9e4f" stroke-width="0.9"/>
<circle cx="461.0" cy="117.5" r="2.1" fill="none" stroke="#2f9e4f" stroke-width="0.9"/>
<circle cx="464.6" cy="124.0" r="2.1" fill="none" stroke="#2f9e4f" stroke-width="0.9"/>
<circle cx="468.1" cy="131.0" r="2.1" fill="none" stroke="#2f9e4f" stroke-width="0.9"/>
<circle cx="471.6" cy="141.5" r="2.1" fill="none" stroke="#2f9e4f" stroke-width="0.9"/>
<circle cx="475.1" cy="148.0" r="2.1" fill="none" stroke="#2f9e4f" stroke-width="0.9"/>
<circle cx="478.7" cy="153.0" r="2.1" fill="none" stroke="#2f9e4f" stroke-width="0.9"/>
<circle cx="482.2" cy="157.0" r="2.1" fill="none" stroke="#2f9e4f" stroke-width="0.9"/>
<circle cx="485.7" cy="160.5" r="2.1" fill="none" stroke="#2f9e4f" stroke-width="0.9"/>
<circle cx="489.3" cy="164.0" r="2.1" fill="none" stroke="#2f9e4f" stroke-width="0.9"/>
<circle cx="492.8" cy="167.5" r="2.1" fill="none" stroke="#2f9e4f" stroke-width="0.9"/>
<circle cx="496.3" cy="171.8" r="2.1" fill="none" stroke="#2f9e4f" stroke-width="0.9"/>
<rect x="448.2" y="11.0" width="69.3" height="36.2" fill="#fff" stroke="#757575" stroke-width="1"/>
<path d="M450.4 16.2H470.0" stroke="#111" stroke-width="1.1" fill="none"/>
<text x="474.7" y="19.3" class="lg">Actual Power</text>
<path d="M450.4 24.8H470.0" stroke="#ff2222" stroke-width="0.7" fill="none"/>
<path d="M460.2 21.9L462.2 24.8L460.2 27.7L458.2 24.8Z" fill="none" stroke="#ff2222" stroke-width="1.05"/>
<text x="476.1" y="27.4" class="lg">EO-LSTM</text>
<path d="M450.4 33.4H470.0" stroke="#ffa526" stroke-width="0.7" fill="none"/>
<path d="M458.7 31.9L461.7 34.9M458.7 34.9L461.7 31.9" fill="none" stroke="#ffa526" stroke-width="0.9"/>
<text x="476.1" y="36.0" class="lg">PSO-LSTM</text>
<path d="M450.4 42.0H470.0" stroke="#2f9e4f" stroke-width="0.7" fill="none"/>
<circle cx="460.2" cy="42.0" r="2.1" fill="none" stroke="#2f9e4f" stroke-width="0.9"/>
<text x="476.1" y="44.6" class="lg">GWO-LSTM</text>
<path d="M361.3 247.1V408.5" fill="none" stroke="#808080" stroke-width="1.05"/>
<path d="M361.3 247.1H149.1V408.5H361.3" fill="none" stroke="#808080" stroke-width="1.05" stroke-linecap="square"/>
<path d="M149.1 408.5h2.2M361.3 408.5h-2.2M149.1 381.6h2.2M361.3 381.6h-2.2M149.1 354.7h2.2M361.3 354.7h-2.2M149.1 327.8h2.2M361.3 327.8h-2.2M149.1 300.9h2.2M361.3 300.9h-2.2M149.1 274.0h2.2M361.3 274.0h-2.2M149.1 247.1h2.2M361.3 247.1h-2.2M152.6 408.5v-2.2M152.6 247.1v2.2M180.9 408.5v-2.2M180.9 247.1v2.2M209.2 408.5v-2.2M209.2 247.1v2.2M248.1 408.5v-2.2M248.1 247.1v2.2M283.5 408.5v-2.2M283.5 247.1v2.2M311.8 408.5v-2.2M311.8 247.1v2.2M340.1 408.5v-2.2M340.1 247.1v2.2" stroke="#a0a0a0" stroke-width="0.6" fill="none"/>
<text transform="translate(147.9 411.8) scale(0.92 1)" text-anchor="end" class="tk">0</text>
<text transform="translate(147.9 384.9) scale(0.92 1)" text-anchor="end" class="tk">2</text>
<text transform="translate(147.9 358.0) scale(0.92 1)" text-anchor="end" class="tk">4</text>
<text transform="translate(147.9 331.1) scale(0.92 1)" text-anchor="end" class="tk">6</text>
<text transform="translate(147.9 304.2) scale(0.92 1)" text-anchor="end" class="tk">8</text>
<text transform="translate(147.9 277.3) scale(0.92 1)" text-anchor="end" class="tk">10</text>
<text transform="translate(147.9 250.4) scale(0.92 1)" text-anchor="end" class="tk">12</text>
<text transform="translate(155.8 422.1) scale(0.92 1)" text-anchor="middle" class="tk">5:30</text>
<text transform="translate(184.1 422.1) scale(0.92 1)" text-anchor="middle" class="tk">7:30</text>
<text transform="translate(212.4 422.1) scale(0.92 1)" text-anchor="middle" class="tk">10:30</text>
<text transform="translate(251.3 422.1) scale(0.92 1)" text-anchor="middle" class="tk">13:00</text>
<text transform="translate(286.7 422.1) scale(0.92 1)" text-anchor="middle" class="tk">15:00</text>
<text transform="translate(315.0 422.1) scale(0.92 1)" text-anchor="middle" class="tk">17:30</text>
<text transform="translate(343.3 422.1) scale(0.92 1)" text-anchor="middle" class="tk">19:00</text>
<polyline points="152.6,400.5 156.2,389.9 159.7,383.5 163.2,379.7 166.8,381.8 170.3,379.3 173.9,372.9 177.4,348.0 180.9,343.9 184.5,363.4 188.0,358.1 191.5,360.0 195.1,345.0 198.6,308.0 202.2,280.5 205.7,279.2 209.2,289.0 212.8,300.0 216.3,264.0 219.8,280.0 223.4,302.0 226.9,324.8 230.4,307.3 234.0,293.2 237.5,318.0 241.1,320.5 244.6,326.0 248.1,312.6 251.7,325.0 255.2,346.0 258.7,366.9 262.3,360.5 265.8,354.5 269.3,353.8 272.9,353.2 276.4,352.5 280.0,349.5 283.5,352.7 287.0,362.0 290.6,368.0 294.1,374.0 297.6,378.0 301.2,380.5 304.7,383.5 308.2,388.0 311.8,393.5 315.3,396.5 318.9,398.5 322.4,400.3 325.9,401.8 329.5,403.3 333.0,405.0 336.5,407.3 340.1,407.3" fill="none" stroke="#111" stroke-width="0.95" stroke-linejoin="round"/>
<polyline points="152.6,405.8 156.2,403.7 159.7,400.5 163.2,397.3 166.8,400.5 170.3,399.4 173.9,392.0 177.4,376.1 180.9,361.3 184.5,366.6 188.0,365.5 191.5,367.6 195.1,358.1 198.6,326.0 202.2,287.4 205.7,279.9 209.2,285.1 212.8,300.3 216.3,272.9 219.8,275.2 223.4,303.8 226.9,309.6 230.4,312.0 234.0,304.9 237.5,321.3 241.1,326.0 244.6,329.5 248.1,328.3 251.7,328.3 255.2,356.0 258.7,371.9 262.3,364.7 265.8,360.4 269.3,359.3 272.9,359.0 276.4,358.5 280.0,356.0 283.5,357.1 287.0,362.5 290.6,376.7 294.1,382.2 297.6,386.6 301.2,389.0 304.7,391.0 308.2,394.2 311.8,398.5 315.3,397.0 318.9,396.5 322.4,398.5 325.9,399.0 329.5,400.0 333.0,402.0 336.5,403.5 340.1,404.7" fill="none" stroke="#ff2222" stroke-width="0.7" stroke-linejoin="round"/>
<path d="M152.6 402.9L154.6 405.8L152.6 408.7L150.6 405.8ZM156.2 400.8L158.2 403.7L156.2 406.6L154.2 403.7ZM159.7 397.6L161.7 400.5L159.7 403.4L157.7 400.5ZM163.2 394.4L165.2 397.3L163.2 400.2L161.2 397.3ZM166.8 397.6L168.8 400.5L166.8 403.4L164.8 400.5ZM170.3 396.5L172.3 399.4L170.3 402.3L168.3 399.4ZM173.9 389.1L175.9 392.0L173.9 394.9L171.9 392.0ZM177.4 373.2L179.4 376.1L177.4 379.0L175.4 376.1ZM180.9 358.4L182.9 361.3L180.9 364.2L178.9 361.3ZM184.5 363.7L186.5 366.6L184.5 369.5L182.5 366.6ZM188.0 362.6L190.0 365.5L188.0 368.4L186.0 365.5ZM191.5 364.7L193.5 367.6L191.5 370.5L189.5 367.6ZM195.1 355.2L197.1 358.1L195.1 361.0L193.1 358.1ZM198.6 323.1L200.6 326.0L198.6 328.9L196.6 326.0ZM202.2 284.5L204.2 287.4L202.2 290.3L200.2 287.4ZM205.7 277.0L207.7 279.9L205.7 282.8L203.7 279.9ZM209.2 282.2L211.2 285.1L209.2 288.0L207.2 285.1ZM212.8 297.4L214.8 300.3L212.8 303.2L210.8 300.3ZM216.3 270.0L218.3 272.9L216.3 275.8L214.3 272.9ZM219.8 272.3L221.8 275.2L219.8 278.1L217.8 275.2ZM223.4 300.9L225.4 303.8L223.4 306.7L221.4 303.8ZM226.9 306.7L228.9 309.6L226.9 312.5L224.9 309.6ZM230.4 309.1L232.4 312.0L230.4 314.9L228.4 312.0ZM234.0 302.0L236.0 304.9L234.0 307.8L232.0 304.9ZM237.5 318.4L239.5 321.3L237.5 324.2L235.5 321.3ZM241.1 323.1L243.1 326.0L241.1 328.9L239.1 326.0ZM244.6 326.6L246.6 329.5L244.6 332.4L242.6 329.5ZM248.1 325.4L250.1 328.3L248.1 331.2L246.1 328.3ZM251.7 325.4L253.7 328.3L251.7 331.2L249.7 328.3ZM255.2 353.1L257.2 356.0L255.2 358.9L253.2 356.0ZM258.7 369.0L260.7 371.9L258.7 374.8L256.7 371.9ZM262.3 361.8L264.3 364.7L262.3 367.6L260.3 364.7ZM265.8 357.5L267.8 360.4L265.8 363.3L263.8 360.4ZM269.3 356.4L271.3 359.3L269.3 362.2L267.3 359.3ZM272.9 356.1L274.9 359.0L272.9 361.9L270.9 359.0ZM276.4 355.6L278.4 358.5L276.4 361.4L274.4 358.5ZM280.0 353.1L282.0 356.0L280.0 358.9L278.0 356.0ZM283.5 354.2L285.5 357.1L283.5 360.0L281.5 357.1ZM287.0 359.6L289.0 362.5L287.0 365.4L285.0 362.5ZM290.6 373.8L292.6 376.7L290.6 379.6L288.6 376.7ZM294.1 379.3L296.1 382.2L294.1 385.1L292.1 382.2ZM297.6 383.7L299.6 386.6L297.6 389.5L295.6 386.6ZM301.2 386.1L303.2 389.0L301.2 391.9L299.2 389.0ZM304.7 388.1L306.7 391.0L304.7 393.9L302.7 391.0ZM308.2 391.3L310.2 394.2L308.2 397.1L306.2 394.2ZM311.8 395.6L313.8 398.5L311.8 401.4L309.8 398.5ZM315.3 394.1L317.3 397.0L315.3 399.9L313.3 397.0ZM318.9 393.6L320.9 396.5L318.9 399.4L316.9 396.5ZM322.4 395.6L324.4 398.5L322.4 401.4L320.4 398.5ZM325.9 396.1L327.9 399.0L325.9 401.9L323.9 399.0ZM329.5 397.1L331.5 400.0L329.5 402.9L327.5 400.0ZM333.0 399.1L335.0 402.0L333.0 404.9L331.0 402.0ZM336.5 400.6L338.5 403.5L336.5 406.4L334.5 403.5ZM340.1 401.8L342.1 404.7L340.1 407.6L338.1 404.7Z" fill="none" stroke="#ff2222" stroke-width="1.05"/>
<polyline points="152.6,408.5 156.2,406.8 159.7,405.8 163.2,396.7 166.8,398.4 170.3,397.9 173.9,389.9 177.4,376.1 180.9,364.5 184.5,369.8 188.0,369.8 191.5,369.8 195.1,362.4 198.6,322.0 202.2,296.7 205.7,288.6 209.2,292.0 212.8,298.0 216.3,275.7 219.8,281.6 223.4,304.9 226.9,315.4 230.4,313.1 234.0,306.0 237.5,320.0 241.1,324.8 244.6,331.8 248.1,324.8 251.7,324.8 255.2,341.8 258.7,347.3 262.3,348.4 265.8,345.7 269.3,344.0 272.9,343.7 276.4,343.3 280.0,342.9 283.5,342.5 287.0,352.7 290.6,359.0 294.1,366.0 297.6,370.0 301.2,374.0 304.7,377.0 308.2,382.0 311.8,386.0 315.3,392.0 318.9,395.0 322.4,397.0 325.9,398.5 329.5,401.0 333.0,403.0 336.5,404.5 340.1,406.2" fill="none" stroke="#ffa526" stroke-width="0.63" stroke-linejoin="round"/>
<path d="M151.1 407.0L154.1 410.0M151.1 410.0L154.1 407.0M154.7 405.3L157.7 408.3M154.7 408.3L157.7 405.3M158.2 404.3L161.2 407.3M158.2 407.3L161.2 404.3M161.7 395.2L164.7 398.2M161.7 398.2L164.7 395.2M165.3 396.9L168.3 399.9M165.3 399.9L168.3 396.9M168.8 396.4L171.8 399.4M168.8 399.4L171.8 396.4M172.4 388.4L175.4 391.4M172.4 391.4L175.4 388.4M175.9 374.6L178.9 377.6M175.9 377.6L178.9 374.6M179.4 363.0L182.4 366.0M179.4 366.0L182.4 363.0M183.0 368.3L186.0 371.3M183.0 371.3L186.0 368.3M186.5 368.3L189.5 371.3M186.5 371.3L189.5 368.3M190.0 368.3L193.0 371.3M190.0 371.3L193.0 368.3M193.6 360.9L196.6 363.9M193.6 363.9L196.6 360.9M197.1 320.5L200.1 323.5M197.1 323.5L200.1 320.5M200.7 295.2L203.7 298.2M200.7 298.2L203.7 295.2M204.2 287.1L207.2 290.1M204.2 290.1L207.2 287.1M207.7 290.5L210.7 293.5M207.7 293.5L210.7 290.5M211.3 296.5L214.3 299.5M211.3 299.5L214.3 296.5M214.8 274.2L217.8 277.2M214.8 277.2L217.8 274.2M218.3 280.1L221.3 283.1M218.3 283.1L221.3 280.1M221.9 303.4L224.9 306.4M221.9 306.4L224.9 303.4M225.4 313.9L228.4 316.9M225.4 316.9L228.4 313.9M228.9 311.6L231.9 314.6M228.9 314.6L231.9 311.6M232.5 304.5L235.5 307.5M232.5 307.5L235.5 304.5M236.0 318.5L239.0 321.5M236.0 321.5L239.0 318.5M239.6 323.3L242.6 326.3M239.6 326.3L242.6 323.3M243.1 330.3L246.1 333.3M243.1 333.3L246.1 330.3M246.6 323.3L249.6 326.3M246.6 326.3L249.6 323.3M250.2 323.3L253.2 326.3M250.2 326.3L253.2 323.3M253.7 340.3L256.7 343.3M253.7 343.3L256.7 340.3M257.2 345.8L260.2 348.8M257.2 348.8L260.2 345.8M260.8 346.9L263.8 349.9M260.8 349.9L263.8 346.9M264.3 344.2L267.3 347.2M264.3 347.2L267.3 344.2M267.8 342.5L270.8 345.5M267.8 345.5L270.8 342.5M271.4 342.2L274.4 345.2M271.4 345.2L274.4 342.2M274.9 341.8L277.9 344.8M274.9 344.8L277.9 341.8M278.5 341.4L281.5 344.4M278.5 344.4L281.5 341.4M282.0 341.0L285.0 344.0M282.0 344.0L285.0 341.0M285.5 351.2L288.5 354.2M285.5 354.2L288.5 351.2M289.1 357.5L292.1 360.5M289.1 360.5L292.1 357.5M292.6 364.5L295.6 367.5M292.6 367.5L295.6 364.5M296.1 368.5L299.1 371.5M296.1 371.5L299.1 368.5M299.7 372.5L302.7 375.5M299.7 375.5L302.7 372.5M303.2 375.5L306.2 378.5M303.2 378.5L306.2 375.5M306.8 380.5L309.8 383.5M306.8 383.5L309.8 380.5M310.3 384.5L313.3 387.5M310.3 387.5L313.3 384.5M313.8 390.5L316.8 393.5M313.8 393.5L316.8 390.5M317.4 393.5L320.4 396.5M317.4 396.5L320.4 393.5M320.9 395.5L323.9 398.5M320.9 398.5L323.9 395.5M324.4 397.0L327.4 400.0M324.4 400.0L327.4 397.0M328.0 399.5L331.0 402.5M328.0 402.5L331.0 399.5M331.5 401.5L334.5 404.5M331.5 404.5L334.5 401.5M335.0 403.0L338.0 406.0M335.0 406.0L338.0 403.0M338.6 404.7L341.6 407.7M338.6 407.7L341.6 404.7" fill="none" stroke="#ffa526" stroke-width="0.9"/>
<polyline points="152.6,395.2 156.2,397.3 159.7,396.7 163.2,391.6 166.8,388.8 170.3,386.7 173.9,384.6 177.4,381.0 180.9,375.5 184.5,376.1 188.0,376.8 191.5,376.8 195.1,367.6 198.6,336.0 202.2,301.4 205.7,292.1 209.2,285.5 212.8,299.1 216.3,280.4 219.8,281.6 223.4,304.9 226.9,328.3 230.4,311.9 234.0,304.9 237.5,335.3 241.1,333.0 244.6,335.3 248.1,329.5 251.7,329.5 255.2,350.5 258.7,366.9 262.3,364.7 265.8,359.3 269.3,358.2 272.9,358.2 276.4,357.0 280.0,354.9 283.5,356.0 287.0,361.5 290.6,369.0 294.1,374.0 297.6,377.0 301.2,380.0 304.7,382.5 308.2,388.0 311.8,393.1 315.3,397.0 318.9,399.5 322.4,402.0 325.9,403.5 329.5,405.0 333.0,406.5 336.5,408.4 340.1,406.8" fill="none" stroke="#2f9e4f" stroke-width="0.7" stroke-linejoin="round"/>
<circle cx="152.6" cy="395.2" r="2.1" fill="none" stroke="#2f9e4f" stroke-width="0.9"/>
<circle cx="156.2" cy="397.3" r="2.1" fill="none" stroke="#2f9e4f" stroke-width="0.9"/>
<circle cx="159.7" cy="396.7" r="2.1" fill="none" stroke="#2f9e4f" stroke-width="0.9"/>
<circle cx="163.2" cy="391.6" r="2.1" fill="none" stroke="#2f9e4f" stroke-width="0.9"/>
<circle cx="166.8" cy="388.8" r="2.1" fill="none" stroke="#2f9e4f" stroke-width="0.9"/>
<circle cx="170.3" cy="386.7" r="2.1" fill="none" stroke="#2f9e4f" stroke-width="0.9"/>
<circle cx="173.9" cy="384.6" r="2.1" fill="none" stroke="#2f9e4f" stroke-width="0.9"/>
<circle cx="177.4" cy="381.0" r="2.1" fill="none" stroke="#2f9e4f" stroke-width="0.9"/>
<circle cx="180.9" cy="375.5" r="2.1" fill="none" stroke="#2f9e4f" stroke-width="0.9"/>
<circle cx="184.5" cy="376.1" r="2.1" fill="none" stroke="#2f9e4f" stroke-width="0.9"/>
<circle cx="188.0" cy="376.8" r="2.1" fill="none" stroke="#2f9e4f" stroke-width="0.9"/>
<circle cx="191.5" cy="376.8" r="2.1" fill="none" stroke="#2f9e4f" stroke-width="0.9"/>
<circle cx="195.1" cy="367.6" r="2.1" fill="none" stroke="#2f9e4f" stroke-width="0.9"/>
<circle cx="198.6" cy="336.0" r="2.1" fill="none" stroke="#2f9e4f" stroke-width="0.9"/>
<circle cx="202.2" cy="301.4" r="2.1" fill="none" stroke="#2f9e4f" stroke-width="0.9"/>
<circle cx="205.7" cy="292.1" r="2.1" fill="none" stroke="#2f9e4f" stroke-width="0.9"/>
<circle cx="209.2" cy="285.5" r="2.1" fill="none" stroke="#2f9e4f" stroke-width="0.9"/>
<circle cx="212.8" cy="299.1" r="2.1" fill="none" stroke="#2f9e4f" stroke-width="0.9"/>
<circle cx="216.3" cy="280.4" r="2.1" fill="none" stroke="#2f9e4f" stroke-width="0.9"/>
<circle cx="219.8" cy="281.6" r="2.1" fill="none" stroke="#2f9e4f" stroke-width="0.9"/>
<circle cx="223.4" cy="304.9" r="2.1" fill="none" stroke="#2f9e4f" stroke-width="0.9"/>
<circle cx="226.9" cy="328.3" r="2.1" fill="none" stroke="#2f9e4f" stroke-width="0.9"/>
<circle cx="230.4" cy="311.9" r="2.1" fill="none" stroke="#2f9e4f" stroke-width="0.9"/>
<circle cx="234.0" cy="304.9" r="2.1" fill="none" stroke="#2f9e4f" stroke-width="0.9"/>
<circle cx="237.5" cy="335.3" r="2.1" fill="none" stroke="#2f9e4f" stroke-width="0.9"/>
<circle cx="241.1" cy="333.0" r="2.1" fill="none" stroke="#2f9e4f" stroke-width="0.9"/>
<circle cx="244.6" cy="335.3" r="2.1" fill="none" stroke="#2f9e4f" stroke-width="0.9"/>
<circle cx="248.1" cy="329.5" r="2.1" fill="none" stroke="#2f9e4f" stroke-width="0.9"/>
<circle cx="251.7" cy="329.5" r="2.1" fill="none" stroke="#2f9e4f" stroke-width="0.9"/>
<circle cx="255.2" cy="350.5" r="2.1" fill="none" stroke="#2f9e4f" stroke-width="0.9"/>
<circle cx="258.7" cy="366.9" r="2.1" fill="none" stroke="#2f9e4f" stroke-width="0.9"/>
<circle cx="262.3" cy="364.7" r="2.1" fill="none" stroke="#2f9e4f" stroke-width="0.9"/>
<circle cx="265.8" cy="359.3" r="2.1" fill="none" stroke="#2f9e4f" stroke-width="0.9"/>
<circle cx="269.3" cy="358.2" r="2.1" fill="none" stroke="#2f9e4f" stroke-width="0.9"/>
<circle cx="272.9" cy="358.2" r="2.1" fill="none" stroke="#2f9e4f" stroke-width="0.9"/>
<circle cx="276.4" cy="357.0" r="2.1" fill="none" stroke="#2f9e4f" stroke-width="0.9"/>
<circle cx="280.0" cy="354.9" r="2.1" fill="none" stroke="#2f9e4f" stroke-width="0.9"/>
<circle cx="283.5" cy="356.0" r="2.1" fill="none" stroke="#2f9e4f" stroke-width="0.9"/>
<circle cx="287.0" cy="361.5" r="2.1" fill="none" stroke="#2f9e4f" stroke-width="0.9"/>
<circle cx="290.6" cy="369.0" r="2.1" fill="none" stroke="#2f9e4f" stroke-width="0.9"/>
<circle cx="294.1" cy="374.0" r="2.1" fill="none" stroke="#2f9e4f" stroke-width="0.9"/>
<circle cx="297.6" cy="377.0" r="2.1" fill="none" stroke="#2f9e4f" stroke-width="0.9"/>
<circle cx="301.2" cy="380.0" r="2.1" fill="none" stroke="#2f9e4f" stroke-width="0.9"/>
<circle cx="304.7" cy="382.5" r="2.1" fill="none" stroke="#2f9e4f" stroke-width="0.9"/>
<circle cx="308.2" cy="388.0" r="2.1" fill="none" stroke="#2f9e4f" stroke-width="0.9"/>
<circle cx="311.8" cy="393.1" r="2.1" fill="none" stroke="#2f9e4f" stroke-width="0.9"/>
<circle cx="315.3" cy="397.0" r="2.1" fill="none" stroke="#2f9e4f" stroke-width="0.9"/>
<circle cx="318.9" cy="399.5" r="2.1" fill="none" stroke="#2f9e4f" stroke-width="0.9"/>
<circle cx="322.4" cy="402.0" r="2.1" fill="none" stroke="#2f9e4f" stroke-width="0.9"/>
<circle cx="325.9" cy="403.5" r="2.1" fill="none" stroke="#2f9e4f" stroke-width="0.9"/>
<circle cx="329.5" cy="405.0" r="2.1" fill="none" stroke="#2f9e4f" stroke-width="0.9"/>
<circle cx="333.0" cy="406.5" r="2.1" fill="none" stroke="#2f9e4f" stroke-width="0.9"/>
<circle cx="336.5" cy="408.4" r="2.1" fill="none" stroke="#2f9e4f" stroke-width="0.9"/>
<circle cx="340.1" cy="406.8" r="2.1" fill="none" stroke="#2f9e4f" stroke-width="0.9"/>
<rect x="292.3" y="247.3" width="69.0" height="35.6" fill="#fff" stroke="#cfcfcf" stroke-width="1"/>
<path d="M294.5 252.5H314.1" stroke="#111" stroke-width="0.95" fill="none"/>
<text x="318.8" y="255.6" class="lg">Actual Power</text>
<path d="M294.5 261.1H314.1" stroke="#ff2222" stroke-width="0.7" fill="none"/>
<path d="M304.3 258.2L306.3 261.1L304.3 264.0L302.3 261.1Z" fill="none" stroke="#ff2222" stroke-width="1.05"/>
<text x="320.2" y="263.7" class="lg">EO-LSTM</text>
<path d="M294.5 269.7H314.1" stroke="#ffa526" stroke-width="0.7" fill="none"/>
<path d="M302.8 268.2L305.8 271.2M302.8 271.2L305.8 268.2" fill="none" stroke="#ffa526" stroke-width="0.9"/>
<text x="320.2" y="272.3" class="lg">PSO-LSTM</text>
<path d="M294.5 278.3H314.1" stroke="#2f9e4f" stroke-width="0.7" fill="none"/>
<circle cx="304.3" cy="278.3" r="2.1" fill="none" stroke="#2f9e4f" stroke-width="0.9"/>
<text x="320.2" y="280.9" class="lg">GWO-LSTM</text><path d="M292 247.1H361.3" stroke="#757575" stroke-width="1"/>
<text transform="translate(13.9 149.3) rotate(-90)" class="yl">Photovoltaic output <tspan class="kw" dx="0.8" dy="1.2">/kW</tspan></text>
<text transform="translate(286.3 143.9) rotate(-90)" class="yl">Photovoltaic output <tspan class="kw" dx="0.8" dy="1.2">/kW</tspan></text>
<text transform="translate(131.8 374.8) rotate(-90)" class="yl">Photovoltaic output <tspan class="kw" dx="0.8" dy="1.2">/kW</tspan></text>
<text x="251.5" y="183.9" class="tm">Time</text>
<text x="524.4" y="184.5" class="tm">Time</text>
<text x="368.0" y="420.7" class="tm">Time</text>
<text x="70.5" y="206.5" class="cb">(a)</text><text x="88" y="206.5" class="cap" textLength="120.6" lengthAdjust="spacing">Prediction results on sunny days</text>
<text x="342.3" y="207.1" class="cb">(b)</text><text x="357.2" y="207.1" class="cap" textLength="122.4" lengthAdjust="spacing">Prediction results on cloudy days</text>
<text x="189.8" y="443.4" class="cb">(c)</text><text x="206.2" y="443.4" class="cap" textLength="118.3" lengthAdjust="spacing">Prediction results on rainy days</text>
</svg>
</body></html>
